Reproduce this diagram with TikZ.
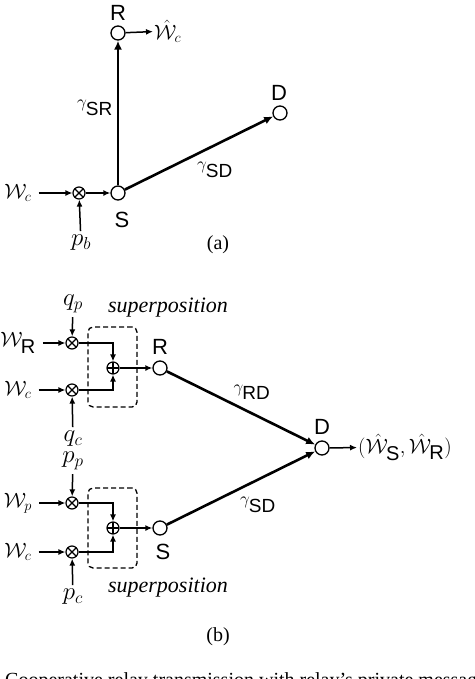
\documentclass[tikz,border=0pt]{standalone}
\usepackage{fontspec}
\setmainfont{Liberation Serif}
\setsansfont{Liberation Sans}
\usetikzlibrary{arrows.meta}
\newcommand{\sfs}[1]{\textsf{#1}}
\begin{document}
\begin{tikzpicture}[x=1pt,y=-1pt,
  nc/.style={circle, draw, line width=1.3pt, minimum size=14pt, inner sep=0pt},
  mult/.style={circle, draw, line width=1.2pt, minimum size=12pt, inner sep=0pt,
    path picture={\draw[line width=1.2pt] (path picture bounding box.north west) -- (path picture bounding box.south east)
      (path picture bounding box.north east) -- (path picture bounding box.south west);}},
  addn/.style={circle, draw, line width=1.2pt, minimum size=12pt, inner sep=0pt,
    path picture={\draw[line width=1.2pt] (path picture bounding box.north) -- (path picture bounding box.south)
      (path picture bounding box.east) -- (path picture bounding box.west);}},
  lab/.style={font=\sffamily\fontsize{22}{24}\selectfont, inner sep=0pt},
  mth/.style={font=\fontsize{20}{22}\selectfont, inner sep=1pt},
  pq/.style={font=\fontsize{23}{25}\selectfont, inner sep=1pt},
  gam/.style={font=\fontsize{19}{21}\selectfont, inner sep=1pt},
  ser/.style={font=\fontsize{20}{22}\selectfont, inner sep=0pt},
  sup/.style={font=\itshape\fontsize{22}{24}\selectfont, inner sep=0pt},
  arr/.style={line width=1.5pt, -{Latex[length=7pt,width=6pt]}},
  tarr/.style={line width=2.6pt, -{Latex[length=9pt,width=8pt]}},
  box/.style={draw, dash pattern=on 5pt off 3pt, line width=1.3pt, rounded corners=5pt}
]
\useasboundingbox (0,0) rectangle (474,679);
% ---------- (a)
\node[nc] (R) at (118,33) {};
\node[lab] (Rl) at (118,13) {R};
\node[nc] (S) at (118,193) {};
\node[lab] (Sl) at (122,220) {S};
\node[nc] (D) at (280,113) {};
\node[lab] (Dl) at (279,93) {D};
\node[mult] (m) at (79,193) {};
\node[mth] (Wc) at (18,193) {$\mathcal{W}_c$};
\node[pq] (pb) at (81,243) {$p_b$};
\node[mth, anchor=west] (Wh) at (153,31) {$\hat{\mathcal{W}}_c$};
\node[gam] (gSR) at (95,108) {$\gamma_{\sfs{SR}}$};
\node[gam] (gSD) at (215,170) {$\gamma_{\sfs{SD}}$};
\node[ser] (ca) at (218,245) {(a)};
\draw[tarr] (S) -- (R);
\draw[tarr] (S) -- (D);
\draw[arr, shorten <=6pt] (Wc) -- (m);
\draw[arr] (m) -- (S);
\draw[arr, shorten <=3pt] (pb) -- (m);
\draw[arr] (R) -- (Wh);
% ---------- (b) top
\node[pq] (qp) at (73,304) {$q_p$};
\node[mult] (mR) at (72,343) {};
\node[mth] (WR) at (18,343) {$\mathcal{W}_{\sfs{R}}$};
\node[mult] (mc1) at (72,390) {};
\node[mth] (Wc1) at (18,390) {$\mathcal{W}_c$};
\node[pq] (qc) at (73,439) {$q_c$};
\node[addn] (aR) at (113,368) {};
\node[box, minimum width=49pt, minimum height=80pt] (b1) at (112.5,367) {};
\node[nc] (R2) at (160,368) {};
\node[lab] (R2l) at (160,347) {R};
\node[sup] (sp1) at (168,308) {superposition};
\draw[arr, shorten <=3pt] (qp) -- (mR);
\draw[arr, shorten <=6pt] (WR) -- (mR);
\draw[arr, shorten <=6pt] (Wc1) -- (mc1);
\draw[arr, shorten <=3pt] (qc) -- (mc1);
\draw[arr] (mR.east) -| (aR.north);
\draw[arr] (mc1.east) -| (aR.south);
\draw[arr] (aR) -- (R2);
% ---------- (b) bottom
\node[pq] (pp) at (73,461) {$p_p$};
\node[mult] (mp) at (72,503) {};
\node[mth] (Wp) at (18,503) {$\mathcal{W}_p$};
\node[mult] (mc2) at (72,552) {};
\node[mth] (Wc2) at (18,552) {$\mathcal{W}_c$};
\node[pq] (pc) at (73,597) {$p_c$};
\node[addn] (aS) at (113,528) {};
\node[box, minimum width=49pt, minimum height=80pt] (b2) at (112.5,528) {};
\node[nc] (S2) at (160,528) {};
\node[lab] (S2l) at (163,552) {S};
\node[sup] (sp2) at (168,588) {superposition};
\draw[arr, shorten <=3pt] (pp) -- (mp);
\draw[arr, shorten <=6pt] (Wp) -- (mp);
\draw[arr, shorten <=6pt] (Wc2) -- (mc2);
\draw[arr, shorten <=3pt] (pc) -- (mc2);
\draw[arr] (mp.east) -| (aS.north);
\draw[arr] (mc2.east) -| (aS.south);
\draw[arr] (aS) -- (S2);
% ---------- D
\node[nc] (D2) at (322,448) {};
\node[lab] (D2l) at (322,427) {D};
\node[mth, anchor=west] (out) at (357,447) {$(\hat{\mathcal{W}}_{\sfs{S}},\hat{\mathcal{W}}_{\sfs{R}})$};
\node[gam] (gRD) at (252,392) {$\gamma_{\sfs{RD}}$};
\node[gam] (gSD2) at (258,505) {$\gamma_{\sfs{SD}}$};
\draw[tarr] (R2) -- (D2);
\draw[tarr] (S2) -- (D2);
\draw[arr] (D2) -- (out);
\node[ser] (cb) at (218,637) {(b)};
\node[ser, anchor=north west, font=\fontsize{20}{22}\selectfont] (cap) at (5,672) {Cooperative relay transmission with relay's private message};
\end{tikzpicture}
\end{document}
